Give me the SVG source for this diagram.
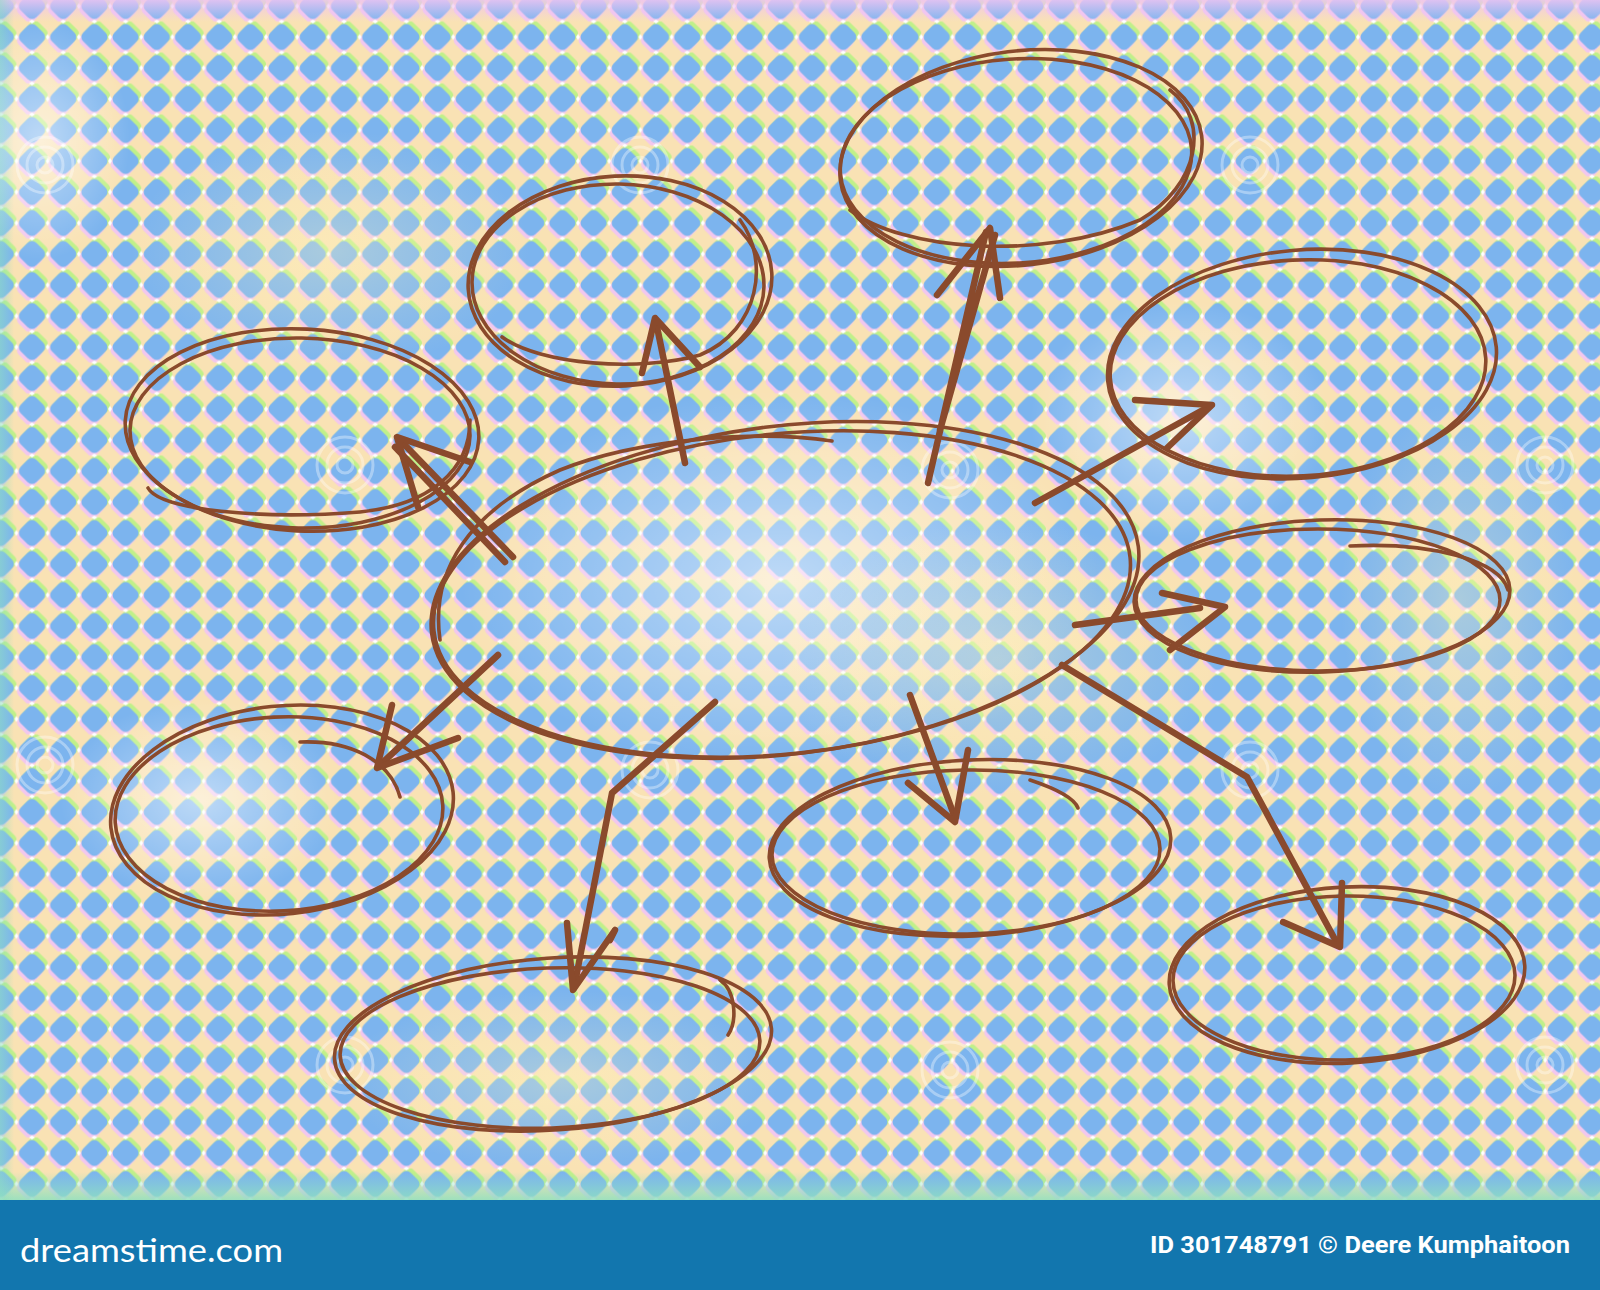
<svg xmlns="http://www.w3.org/2000/svg" width="1600" height="1290" viewBox="0 0 1600 1290">
<defs>
<style>
.loop{fill:none;stroke:#8a4a2c;stroke-width:3.6;stroke-linecap:round}
.arw{fill:none;stroke:#8a4a2c;stroke-width:6.5;stroke-linecap:round;stroke-linejoin:round}
.wm{fill:none;stroke:#ffffff;stroke-opacity:0.35;stroke-width:3}
</style>
<pattern id="tile" width="31.2" height="31" patternUnits="userSpaceOnUse" x="16.4" y="-9.5">
<rect width="31.2" height="31" fill="#f9e2b4"/>
<rect x="-11" y="-11" width="22" height="22" rx="6" transform="translate(13.6,18.8) rotate(45)" fill="#f2c7ee"/>
<rect x="-11" y="-11" width="22" height="22" rx="6" transform="translate(18.4,12.6) rotate(45)" fill="#c0f08a"/>
<rect x="-11" y="-11" width="22" height="22" rx="6" transform="translate(15.6,15.5) rotate(45)" fill="#7cb4ee"/>
<path d="M0,12.5 L2,15.5 0,18.5 -2,15.5Z M31.2,12.5 L33.2,15.5 31.2,18.5 29.2,15.5Z M12.6,0 L15.6,-2 18.6,0 15.6,2Z M12.6,31 L15.6,29 18.6,31 15.6,33Z" fill="#ffffff"/>
</pattern>
<radialGradient id="glow" cx="0.5" cy="0.5" r="0.5">
<stop offset="0" stop-color="#ffffff" stop-opacity="0.5"/>
<stop offset="1" stop-color="#ffffff" stop-opacity="0"/>
</radialGradient>
<radialGradient id="glowY" cx="0.5" cy="0.5" r="0.5">
<stop offset="0" stop-color="#fff6c0" stop-opacity="0.35"/>
<stop offset="1" stop-color="#fff6c0" stop-opacity="0"/>
</radialGradient>
<linearGradient id="topBand" x1="0" y1="0" x2="0" y2="1">
<stop offset="0" stop-color="#efc4f2" stop-opacity="0.85"/>
<stop offset="1" stop-color="#efc4f2" stop-opacity="0"/>
</linearGradient>
<linearGradient id="botBand" x1="0" y1="0" x2="0" y2="1">
<stop offset="0" stop-color="#8ee0bf" stop-opacity="0"/>
<stop offset="1" stop-color="#8ee0bf" stop-opacity="0.85"/>
</linearGradient>
<linearGradient id="leftBand" x1="0" y1="0" x2="1" y2="0">
<stop offset="0" stop-color="#8fdfc0" stop-opacity="0.55"/>
<stop offset="1" stop-color="#8fdfc0" stop-opacity="0"/>
</linearGradient>
</defs>

<g id="background">
<rect width="1600" height="1200" fill="url(#tile)"/>
<rect width="1600" height="22" fill="url(#topBand)"/>
<rect y="1172" width="1600" height="28" fill="url(#botBand)"/>
<rect width="14" height="1200" fill="url(#leftBand)"/>
<ellipse cx="780" cy="580" rx="320" ry="190" fill="url(#glow)"/>
<ellipse cx="40" cy="140" rx="90" ry="120" fill="url(#glow)"/>
<ellipse cx="1180" cy="420" rx="150" ry="120" fill="url(#glow)"/>
<ellipse cx="330" cy="250" rx="200" ry="120" fill="url(#glowY)"/>
<ellipse cx="1000" cy="660" rx="220" ry="140" fill="url(#glowY)"/>
<ellipse cx="200" cy="800" rx="140" ry="100" fill="url(#glow)"/>
<ellipse cx="560" cy="1080" rx="220" ry="90" fill="url(#glowY)"/>
<ellipse cx="1460" cy="600" rx="120" ry="200" fill="url(#glowY)"/>
</g>

<g id="watermarks">
<g transform="translate(45,165)"><circle class="wm" r="28"/><circle class="wm" r="18"/><circle class="wm" r="8"/></g>
<g transform="translate(640,165)"><circle class="wm" r="28"/><circle class="wm" r="18"/><circle class="wm" r="8"/></g>
<g transform="translate(1250,165)"><circle class="wm" r="28"/><circle class="wm" r="18"/><circle class="wm" r="8"/></g>
<g transform="translate(345,465)"><circle class="wm" r="28"/><circle class="wm" r="18"/><circle class="wm" r="8"/></g>
<g transform="translate(950,470)"><circle class="wm" r="28"/><circle class="wm" r="18"/><circle class="wm" r="8"/></g>
<g transform="translate(1545,465)"><circle class="wm" r="28"/><circle class="wm" r="18"/><circle class="wm" r="8"/></g>
<g transform="translate(45,765)"><circle class="wm" r="28"/><circle class="wm" r="18"/><circle class="wm" r="8"/></g>
<g transform="translate(650,770)"><circle class="wm" r="28"/><circle class="wm" r="18"/><circle class="wm" r="8"/></g>
<g transform="translate(1250,770)"><circle class="wm" r="28"/><circle class="wm" r="18"/><circle class="wm" r="8"/></g>
<g transform="translate(345,1065)"><circle class="wm" r="28"/><circle class="wm" r="18"/><circle class="wm" r="8"/></g>
<g transform="translate(950,1070)"><circle class="wm" r="28"/><circle class="wm" r="18"/><circle class="wm" r="8"/></g>
<g transform="translate(1545,1065)"><circle class="wm" r="28"/><circle class="wm" r="18"/><circle class="wm" r="8"/></g>
</g>

<g id="center">
<ellipse class="loop" cx="785" cy="590" rx="356" ry="164" transform="rotate(-7 785 590)"/>
<ellipse class="loop" cx="782" cy="594" rx="350" ry="160" transform="rotate(-6 782 594)"/>
<path class="loop" d="M832,441 C760,430 640,438 560,470 C470,510 430,570 440,640"/>
</g>

<g id="node1">
<ellipse class="loop" cx="302" cy="430" rx="177" ry="101" transform="rotate(3 302 430)"/>
<ellipse class="loop" cx="300" cy="433" rx="170" ry="95" transform="rotate(1 300 433)"/>
<path class="loop" d="M148,488 C160,510 260,520 360,512 C430,505 470,470 470,420"/>
</g>

<g id="node2">
<ellipse class="loop" cx="620" cy="281" rx="152" ry="105" transform="rotate(-3 620 281)"/>
<ellipse class="loop" cx="618" cy="284" rx="146" ry="100" transform="rotate(1 618 284)"/>
<path class="loop" d="M502,337 C540,365 640,372 700,355 C760,330 770,260 740,220"/>
</g>

<g id="node3">
<ellipse class="loop" cx="1021" cy="158" rx="182" ry="107" transform="rotate(-7 1021 158)"/>
<ellipse class="loop" cx="1016" cy="161" rx="176" ry="102" transform="rotate(-4 1016 161)"/>
<path class="loop" d="M850,210 C900,250 1040,262 1140,220 C1200,185 1210,120 1170,90"/>
</g>

<g id="node4">
<ellipse class="loop" cx="1302" cy="364" rx="195" ry="114" transform="rotate(-5 1302 364)"/>
<ellipse class="loop" cx="1298" cy="368" rx="188" ry="108" transform="rotate(-3 1298 368)"/>
</g>

<g id="node5">
<ellipse class="loop" cx="1322" cy="596" rx="188" ry="76" transform="rotate(-2 1322 596)"/>
<ellipse class="loop" cx="1318" cy="600" rx="182" ry="71" transform="rotate(0 1318 600)"/>
<path class="loop" d="M1350,546 C1430,542 1500,560 1508,590"/>
</g>

<g id="node6">
<ellipse class="loop" cx="1347" cy="975" rx="178" ry="88" transform="rotate(-3 1347 975)"/>
<ellipse class="loop" cx="1344" cy="978" rx="171" ry="82" transform="rotate(-1 1344 978)"/>
</g>

<g id="node7">
<ellipse class="loop" cx="970" cy="848" rx="201" ry="88" transform="rotate(-3 970 848)"/>
<ellipse class="loop" cx="966" cy="852" rx="194" ry="82" transform="rotate(-1 966 852)"/>
<path class="loop" d="M1030,780 C1060,790 1075,800 1078,808"/>
</g>

<g id="node8">
<ellipse class="loop" cx="553" cy="1044" rx="219" ry="86" transform="rotate(-4 553 1044)"/>
<ellipse class="loop" cx="550" cy="1048" rx="210" ry="80" transform="rotate(-2 550 1048)"/>
<path class="loop" d="M720,980 C735,990 738,1020 728,1035"/>
</g>

<g id="node9">
<ellipse class="loop" cx="282" cy="810" rx="172" ry="104" transform="rotate(-6 282 810)"/>
<ellipse class="loop" cx="279" cy="814" rx="164" ry="97" transform="rotate(-3 279 814)"/>
<path class="loop" d="M300,742 C350,740 390,760 400,797"/>
</g>

<g id="connectors">
<path class="arw" d="M513,557 L400,440 M505,562 L395,447"/>
<path class="arw" d="M418,507 L397,437 L470,462"/>
<path class="arw" d="M685,463 L656,322"/>
<path class="arw" d="M642,373 L655,318 L700,367"/>
<path class="arw" d="M928,483 L986,232 M940,430 L995,235"/>
<path class="arw" d="M937,295 L990,228 L1000,298"/>
<path class="arw" d="M1035,503 L1210,406"/>
<path class="arw" d="M1135,400 L1212,405 L1167,448"/>
<path class="arw" d="M1075,625 L1200,608"/>
<path class="arw" d="M1162,593 L1225,607 L1170,650"/>
<path class="arw" d="M1062,665 L1247,777 L1338,945"/>
<path class="arw" d="M1283,922 L1340,947 L1342,883"/>
<path class="arw" d="M910,695 L955,818"/>
<path class="arw" d="M908,783 L955,822 L968,750"/>
<path class="arw" d="M715,702 L612,793 L574,988"/>
<path class="arw" d="M567,923 L573,990 L615,930 L610,940"/>
<path class="arw" d="M498,655 L380,765"/>
<path class="arw" d="M392,705 L377,768 L458,738"/>
</g>

<g id="footer">
<rect y="1200" width="1600" height="90" fill="#1276ae"/>
<text x="20" y="1262" font-family="Lato, 'Open Sans', sans-serif" font-size="33" fill="#ffffff" textLength="263" lengthAdjust="spacingAndGlyphs">dreamstime.com</text>
<text x="1150" y="1253" font-family="Roboto, 'Liberation Sans', sans-serif" font-size="23" font-weight="bold" fill="#ffffff" textLength="420" lengthAdjust="spacingAndGlyphs">ID 301748791 © Deere Kumphaitoon</text>
</g>
</svg>
